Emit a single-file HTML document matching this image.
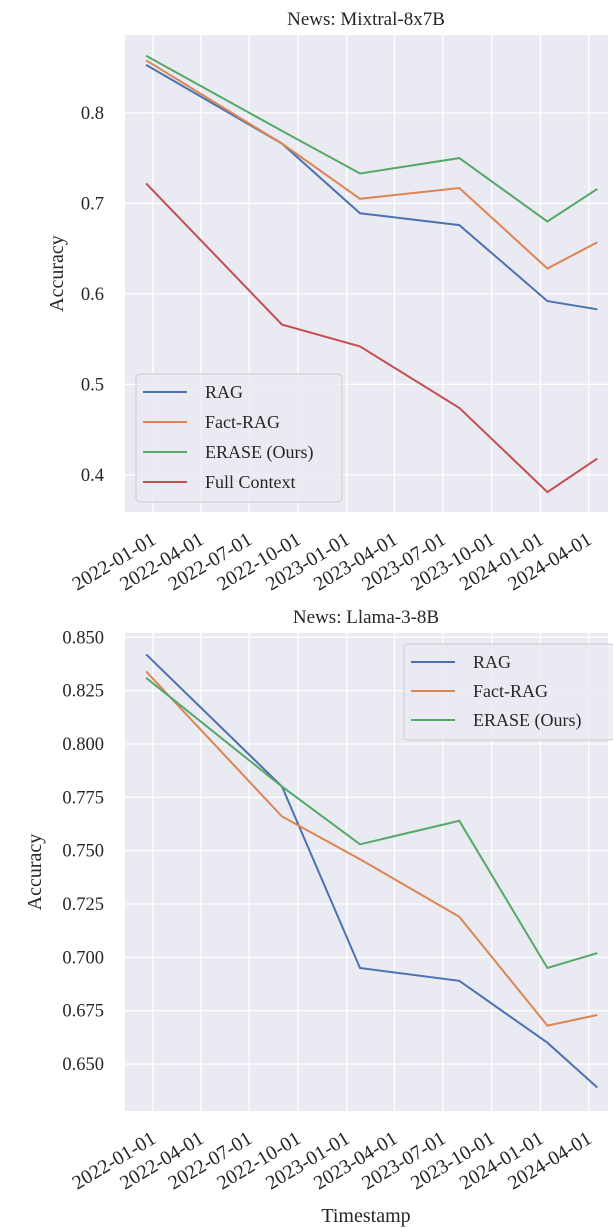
<!DOCTYPE html>
<html><head><meta charset="utf-8"><style>
html,body{margin:0;padding:0;background:#fff;}
svg{display:block;font-family:"Liberation Serif",serif;}
</style></head><body>
<svg id="c" width="613" height="1228" viewBox="0 0 613 1228"></svg>
<script>
const dates = ["2021-12-19","2022-09-01","2023-01-26","2023-08-01","2024-01-14","2024-04-17"];
const xTicks = ["2022-01-01","2022-04-01","2022-07-01","2022-10-01","2023-01-01","2023-04-01","2023-07-01","2023-10-01","2024-01-01","2024-04-01"];
const seriesNames = ["RAG","Fact-RAG","ERASE (Ours)","Full Context"];
const colors = ["#4c72b0","#dd8452","#55a868","#c44e52"];
const topRag = [0.853,0.766,0.689,0.676,0.592,0.583];
const topFact = [0.858,0.766,0.705,0.717,0.628,0.657];
const topErase = [0.863,0.780,0.733,0.750,0.680,0.716];
const topFull = [0.722,0.566,0.542,0.474,0.381,0.418];
const topYTicks = [0.4,0.5,0.6,0.7,0.8];
const botRag = [0.842,0.780,0.695,0.689,0.660,0.639];
const botFact = [0.834,0.766,0.746,0.719,0.668,0.673];
const botErase = [0.831,0.780,0.753,0.764,0.695,0.702];
const botYTicks = [0.650,0.675,0.700,0.725,0.750,0.775,0.800,0.825,0.850];

const NS="http://www.w3.org/2000/svg";
const svg=document.getElementById('c');
function mk(tag,attrs,parent){const e=document.createElementNS(NS,tag);for(const k in attrs)e.setAttribute(k,attrs[k]);(parent||svg).appendChild(e);return e;}
const day=864e5;
const x0=Date.parse("2022-01-01");
function xs(d){return 153+(Date.parse(d)-x0)/day*(48.3/91);}

function panel(cfg){
  const g=mk('g',{});
  
  
  const ys=v=>cfg.bottom-(v-cfg.ymin)/(cfg.ymax-cfg.ymin)*(cfg.bottom-cfg.top);
  const bg=mk('rect',{x:125,y:cfg.top,width:483,height:cfg.bottom-cfg.top,fill:'#eaeaf2'},g);
  
  
  xTicks.forEach(t=>{
    const x=xs(t);
    const l=mk('line',{x1:x,x2:x,y1:cfg.top,y2:cfg.bottom,stroke:'#fff','stroke-width':1.3},g);
    
    
    const ty=cfg.bottom+19;
    const tx=mk('text',{x:x-3,y:ty,'font-size':20,fill:'#262626','text-anchor':'end',transform:`rotate(-31 ${x-3} ${ty})`,dy:'0.7em'},g);
    tx.textContent=t;
    
    
  });
  cfg.yticks.forEach(v=>{
    const y=ys(v);
    const l=mk('line',{x1:125,x2:608,y1:y,y2:y,stroke:'#fff','stroke-width':1.3},g);
    
    
    const tx=mk('text',{x:104,y:y+6,'font-size':18.5,fill:'#262626','text-anchor':'end'},g);
    tx.textContent=cfg.fmt(v);
    
    
  });
  cfg.series.forEach((s,i)=>{
    const pts=s.map((v,j)=>xs(dates[j]).toFixed(1)+','+ys(v).toFixed(1)).join(' ');
    const p=mk('polyline',{points:pts,fill:'none',stroke:colors[i],'stroke-width':2},g);
    
    
  });
  const t=mk('text',{x:366,y:cfg.top-10,'font-size':19,fill:'#262626','text-anchor':'middle'},g);
  t.textContent=cfg.title;
  
  
  const yl=mk('text',{x:cfg.ylx,y:(cfg.top+cfg.bottom)/2,'font-size':20,fill:'#262626','text-anchor':'middle',transform:`rotate(-90 ${cfg.ylx} ${(cfg.top+cfg.bottom)/2})`},g);
  yl.textContent='Accuracy';
  
  
  const L=cfg.legend;
  const lg=mk('g',{},g);
  
  
  mk('rect',{x:L.x,y:L.y,width:L.w,height:L.h,rx:4,fill:'#eaeaf2','fill-opacity':0.8,stroke:'#cccccc'},lg);
  for(let i=0;i<cfg.series.length;i++){
    const y=L.y+18+i*L.step;
    const e=mk('g',{},lg);
    
    
    mk('line',{x1:L.x+7,x2:L.x+51,y1:y,y2:y,stroke:colors[i],'stroke-width':2},e);
    const tx=mk('text',{x:L.x+69,y:y+6,'font-size':18,fill:'#262626'},e);
    tx.textContent=seriesNames[i];
  }
}
panel({name:'top-panel',title:'News: Mixtral-8x7B',top:35,bottom:512,ymin:0.359,ymax:0.886,yticks:topYTicks,fmt:v=>v.toFixed(1),series:[topRag,topFact,topErase,topFull],ylx:63,legend:{x:136,y:374,w:206,h:128,step:30}});
panel({name:'bottom-panel',title:'News: Llama-3-8B',top:633,bottom:1111,ymin:0.628,ymax:0.852,yticks:botYTicks,fmt:v=>v.toFixed(3),series:[botRag,botFact,botErase],ylx:41,legend:{x:404,y:644,w:210,h:96,step:29}});
const xl=mk('text',{x:366,y:1222,'font-size':20,fill:'#262626','text-anchor':'middle'});
xl.textContent='Timestamp';


</script>
</body></html>
